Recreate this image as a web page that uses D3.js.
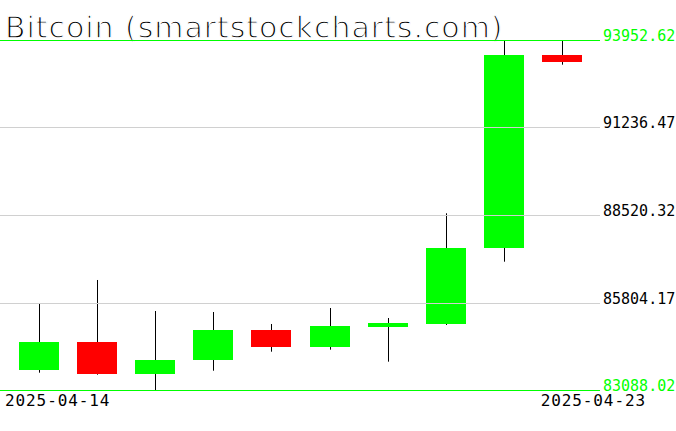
<!DOCTYPE html>
<html>
<head>
<meta charset="utf-8">
<script src="https://cdn.jsdelivr.net/npm/d3@7"></script>
<style>
  body { margin: 0; background: #fff; }
  svg { display: block; }
</style>
</head>
<body>
<div id="container"></div>
<script>
const w = 676,
  h = 431;

// daily candles
const dates = ['2025-04-14', '2025-04-15', '2025-04-16', '2025-04-17', '2025-04-18',
  '2025-04-19', '2025-04-20', '2025-04-21', '2025-04-22', '2025-04-23'];
const opens = [83718, 84578, 83594, 84019, 84950, 84432, 85044, 85137, 87505, 93487];
const highs = [85789, 86503, 85540, 85509, 85137, 85633, 85323, 88573, 93952.62, 93950];
const lows = [83625, 83563, 83088.02, 83687, 84277, 84339, 83967, 85106, 87071, 93186];
const closes = [84578, 83594, 84019, 84950, 84432, 85075, 85168, 87505, 93487, 93270];

const yTicks = [83088.02, 85804.17, 88520.32, 91236.47, 93952.62];
const dateLabels = ['2025-04-14', '2025-04-23'];

const candles = dates.map((d, i) => ({
  date: d, o: opens[i], h: highs[i], l: lows[i], c: closes[i]
}));

const svg = d3.select('#container').append('svg').attr('width', w).attr('height', h);

const xScale = d3.scaleBand().domain(dates).range([19, 582]).paddingInner(0.3117).paddingOuter(0);
const yScale = d3.scaleLinear().domain([d3.min(lows), d3.max(highs)]).range([390, 40]);
const plotRight = 600;

// title first so the top line runs over it
// (white outline thins the glyphs toward the hairline look)
svg.append('text')
  .text('Bitcoin (smartstockcharts.com)')
  .attr('x', 5)
  .attr('y', 38)
  .attr('fill', '#000')
  .attr('stroke', '#fff')
  .attr('stroke-width', 1.3)
  .style('font-family', "'DejaVu Sans', sans-serif")
  .style('font-size', '30px')
  .style('letter-spacing', '0.95px');

// wicks
svg.selectAll('line.wick')
  .data(candles)
  .enter()
  .append('line')
  .attr('class', 'wick')
  .attr('x1', (d) => Math.round(xScale(d.date) + xScale.bandwidth() / 2) + 0.5)
  .attr('x2', (d) => Math.round(xScale(d.date) + xScale.bandwidth() / 2) + 0.5)
  .attr('y1', (d) => yScale(d.h))
  .attr('y2', (d) => yScale(d.l))
  .attr('stroke', '#000')
  .attr('stroke-width', 1);

// bodies
svg.selectAll('rect.body')
  .data(candles)
  .enter()
  .append('rect')
  .attr('class', 'body')
  .attr('x', (d) => Math.round(xScale(d.date)))
  .attr('width', Math.round(xScale.bandwidth()))
  .attr('y', (d) => Math.round(yScale(Math.max(d.o, d.c))))
  .attr('height', (d) => Math.max(1, Math.round(Math.abs(yScale(d.o) - yScale(d.c)))))
  .attr('fill', (d) => (d.c >= d.o ? '#00ff00' : '#ff0000'))
  .attr('shape-rendering', 'crispEdges');

// horizontal grid, ends green, inner grey
const isEnd = (i) => i === 0 || i === yTicks.length - 1;

svg.selectAll('line.grid')
  .data(yTicks)
  .enter()
  .append('line')
  .attr('class', 'grid')
  .attr('x1', 0)
  .attr('x2', plotRight)
  .attr('y1', (d) => Math.round(yScale(d)) + 0.5)
  .attr('y2', (d) => Math.round(yScale(d)) + 0.5)
  .attr('stroke', (d, i) => (isEnd(i) ? '#00ff00' : '#d0d0d0'))
  .attr('stroke-width', 1);

svg.selectAll('text.ylab')
  .data(yTicks)
  .enter()
  .append('text')
  .attr('class', 'ylab')
  .text((d) => d.toFixed(2))
  .attr('x', plotRight + 3)
  .attr('y', (d) => Math.round(yScale(d)) + 1)
  .attr('fill', (d, i) => (isEnd(i) ? '#00ff00' : '#000'))
  .style('font-family', "'DejaVu Sans Mono', monospace")
  .style('font-size', '15px');

// date labels at the two ends
svg.append('text')
  .text(dateLabels[0])
  .attr('x', xScale(dates[0]) - 14)
  .attr('y', yScale.range()[0] + 16)
  .style('font-family', "'DejaVu Sans Mono', monospace")
  .style('font-size', '16px')
  .style('letter-spacing', '0.9px');

svg.append('text')
  .text(dateLabels[1])
  .attr('text-anchor', 'end')
  .attr('x', plotRight + 46)
  .attr('y', yScale.range()[0] + 16)
  .style('font-family', "'DejaVu Sans Mono', monospace")
  .style('font-size', '16px')
  .style('letter-spacing', '0.9px');
</script>
</body>
</html>
